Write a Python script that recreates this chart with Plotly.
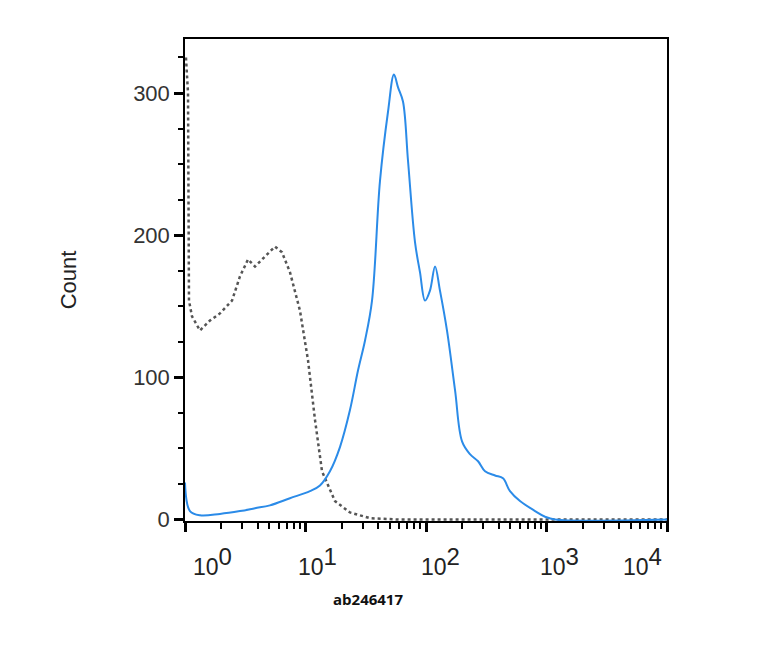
import numpy as np
import plotly.graph_objects as go

# positions read as log10(intensity), counts
ISO_LOG = [0.008, 0.025, 0.033, 0.058, 0.124, 0.207, 0.29, 0.39, 0.456, 0.523, 0.581,
           0.664, 0.747, 0.805, 0.871, 0.954, 1.021, 1.079, 1.137, 1.245, 1.369,
           1.535, 1.78, 4.0]
ISO_CNT = [325, 300, 154, 143, 133, 140, 145, 154, 171, 183, 178,
           185, 192, 188, 174, 147, 112, 70, 34, 13, 5,
           1, 0, 0]

AB_LOG = [0.0, 0.041, 0.124, 0.29, 0.456, 0.581, 0.705, 0.871, 1.037, 1.12, 1.203,
          1.286, 1.369, 1.436, 1.494, 1.552, 1.618, 1.685, 1.734, 1.768, 1.809,
          1.851, 1.909, 1.95, 1.992, 2.033, 2.075, 2.116, 2.174, 2.241, 2.299,
          2.365, 2.432, 2.49, 2.573, 2.639, 2.697, 2.78, 2.905, 2.988, 3.071, 4.0]
AB_CNT = [26, 6, 3, 4, 6, 8, 10, 15, 20, 24, 34,
          51, 77, 105, 126, 154, 238, 287, 313, 304, 294,
          252, 195, 174, 154, 161, 178, 161, 133, 91, 55,
          46, 41, 34, 31, 29, 20, 13, 6, 2, 0, 0]

DECADES = [0, 1, 2, 3, 4]
LABEL_POS = [0.23, 1.1, 2.12, 3.11, 3.8]

fig = go.Figure()
fig.add_scatter(x=10 ** np.array(ISO_LOG), y=ISO_CNT, mode="lines",
                line=dict(color="#555555", width=2.5, dash="dot"), showlegend=False)
fig.add_scatter(x=10 ** np.array(AB_LOG), y=AB_CNT, mode="lines", line_shape="spline",
                line=dict(color="#2b8be8", width=2), showlegend=False)

for d, p in zip(DECADES, LABEL_POS):
    fig.add_annotation(x=p, y=0, xref="x", yref="paper", yanchor="top", yshift=-20,
                       text=f"10<sup><span style='font-size:24px'>{d}</span></sup>",
                       showarrow=False,
                       font=dict(family="Liberation Sans", size=23, color="#222"))

fig.add_annotation(x=0.38, y=0, xref="paper", yref="paper", yshift=-90,
                   text="<b>ab246417</b>", showarrow=False,
                   font=dict(family="Open Sans", size=15, color="#111"))

fig.update_xaxes(type="log", range=[0, 4], showgrid=False, zeroline=False,
                 showline=True, linecolor="black", linewidth=1.5, mirror=True,
                 ticks="outside", ticklen=9, tickwidth=3, tickcolor="black",
                 tickvals=[10 ** d for d in DECADES], showticklabels=False,
                 minor=dict(ticks="outside", ticklen=6, tickwidth=1.5,
                            tickcolor="black", dtick="D1"))
fig.update_yaxes(range=[-1, 338], showgrid=False, zeroline=False,
                 showline=True, linecolor="black", linewidth=1.5, mirror=True,
                 ticks="outside", ticklen=9, tickwidth=3, tickcolor="black",
                 tickvals=[0, 100, 200, 300],
                 tickfont=dict(family="Liberation Sans", size=22, color="#333"),
                 minor=dict(ticks="outside", ticklen=5, tickwidth=1.5,
                            tickcolor="black", dtick=25),
                 title=dict(text="Count", standoff=50,
                            font=dict(family="Liberation Sans", size=22, color="#222")))

fig.update_layout(width=768, height=658, plot_bgcolor="white", paper_bgcolor="white",
                  margin=dict(l=177, r=109, t=31, b=145))
fig.write_html("out.html")
